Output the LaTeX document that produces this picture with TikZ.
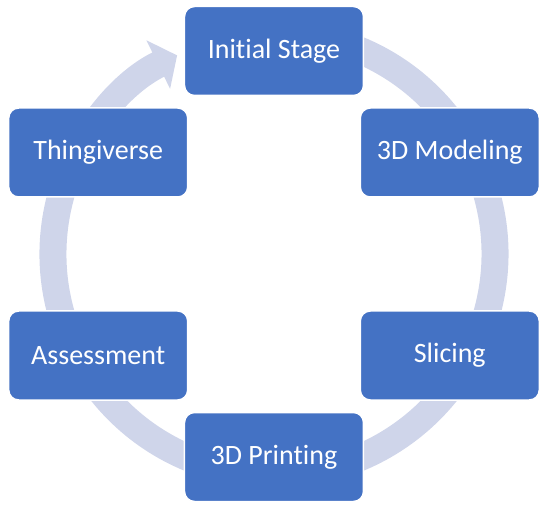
\documentclass[tikz,border=0pt]{standalone}
\usepackage{fontspec}
\setmainfont{Carlito}[Ligatures=NoCommon]
\usepackage{tikz}
\usetikzlibrary{arrows.meta,positioning,backgrounds}
\definecolor{stageblue}{RGB}{68,114,196}
\definecolor{ringgray}{RGB}{207,213,234}

\begin{document}
\begin{tikzpicture}[
    x=1pt, y=1pt,
    font=\fontsize{28}{34}\selectfont,
    stage/.style={
		rectangle,
		rounded corners=10pt,
		draw=white,
		line width=1.5pt,
		fill=stageblue,
		text=white,
		text centered,
		minimum width=179pt,
		minimum height=89pt
	},
	ring/.style={
		draw=ringgray,
		line width=27pt,
		-{Triangle[length=21pt,width=53pt]}
	}
  ]
  \useasboundingbox (-274,-255) rectangle (276,254);
    % centre of the cycle
  \coordinate (hub) at (0,0);

  \node [stage] (initial) at (90:203) {Initial Stage};
  \node [stage] (modeling) at (30:203) {3D Modeling};
  \node [stage] (slicing) at (-30:203) {Slicing};
  \node [stage] (printing) at (-90:203) {3D Printing};
  \node [stage] (assessment) at (-150:203) {Assessment};
  \node [stage] (thingiverse) at (150:203) {Thingiverse};

  \coordinate (ringstart) at (75:221);

  \begin{scope}[on background layer]
  \draw [ring] (ringstart) arc [start angle=75, end angle=-244, radius=221];
  \end{scope}

\end{tikzpicture}
\end{document}
